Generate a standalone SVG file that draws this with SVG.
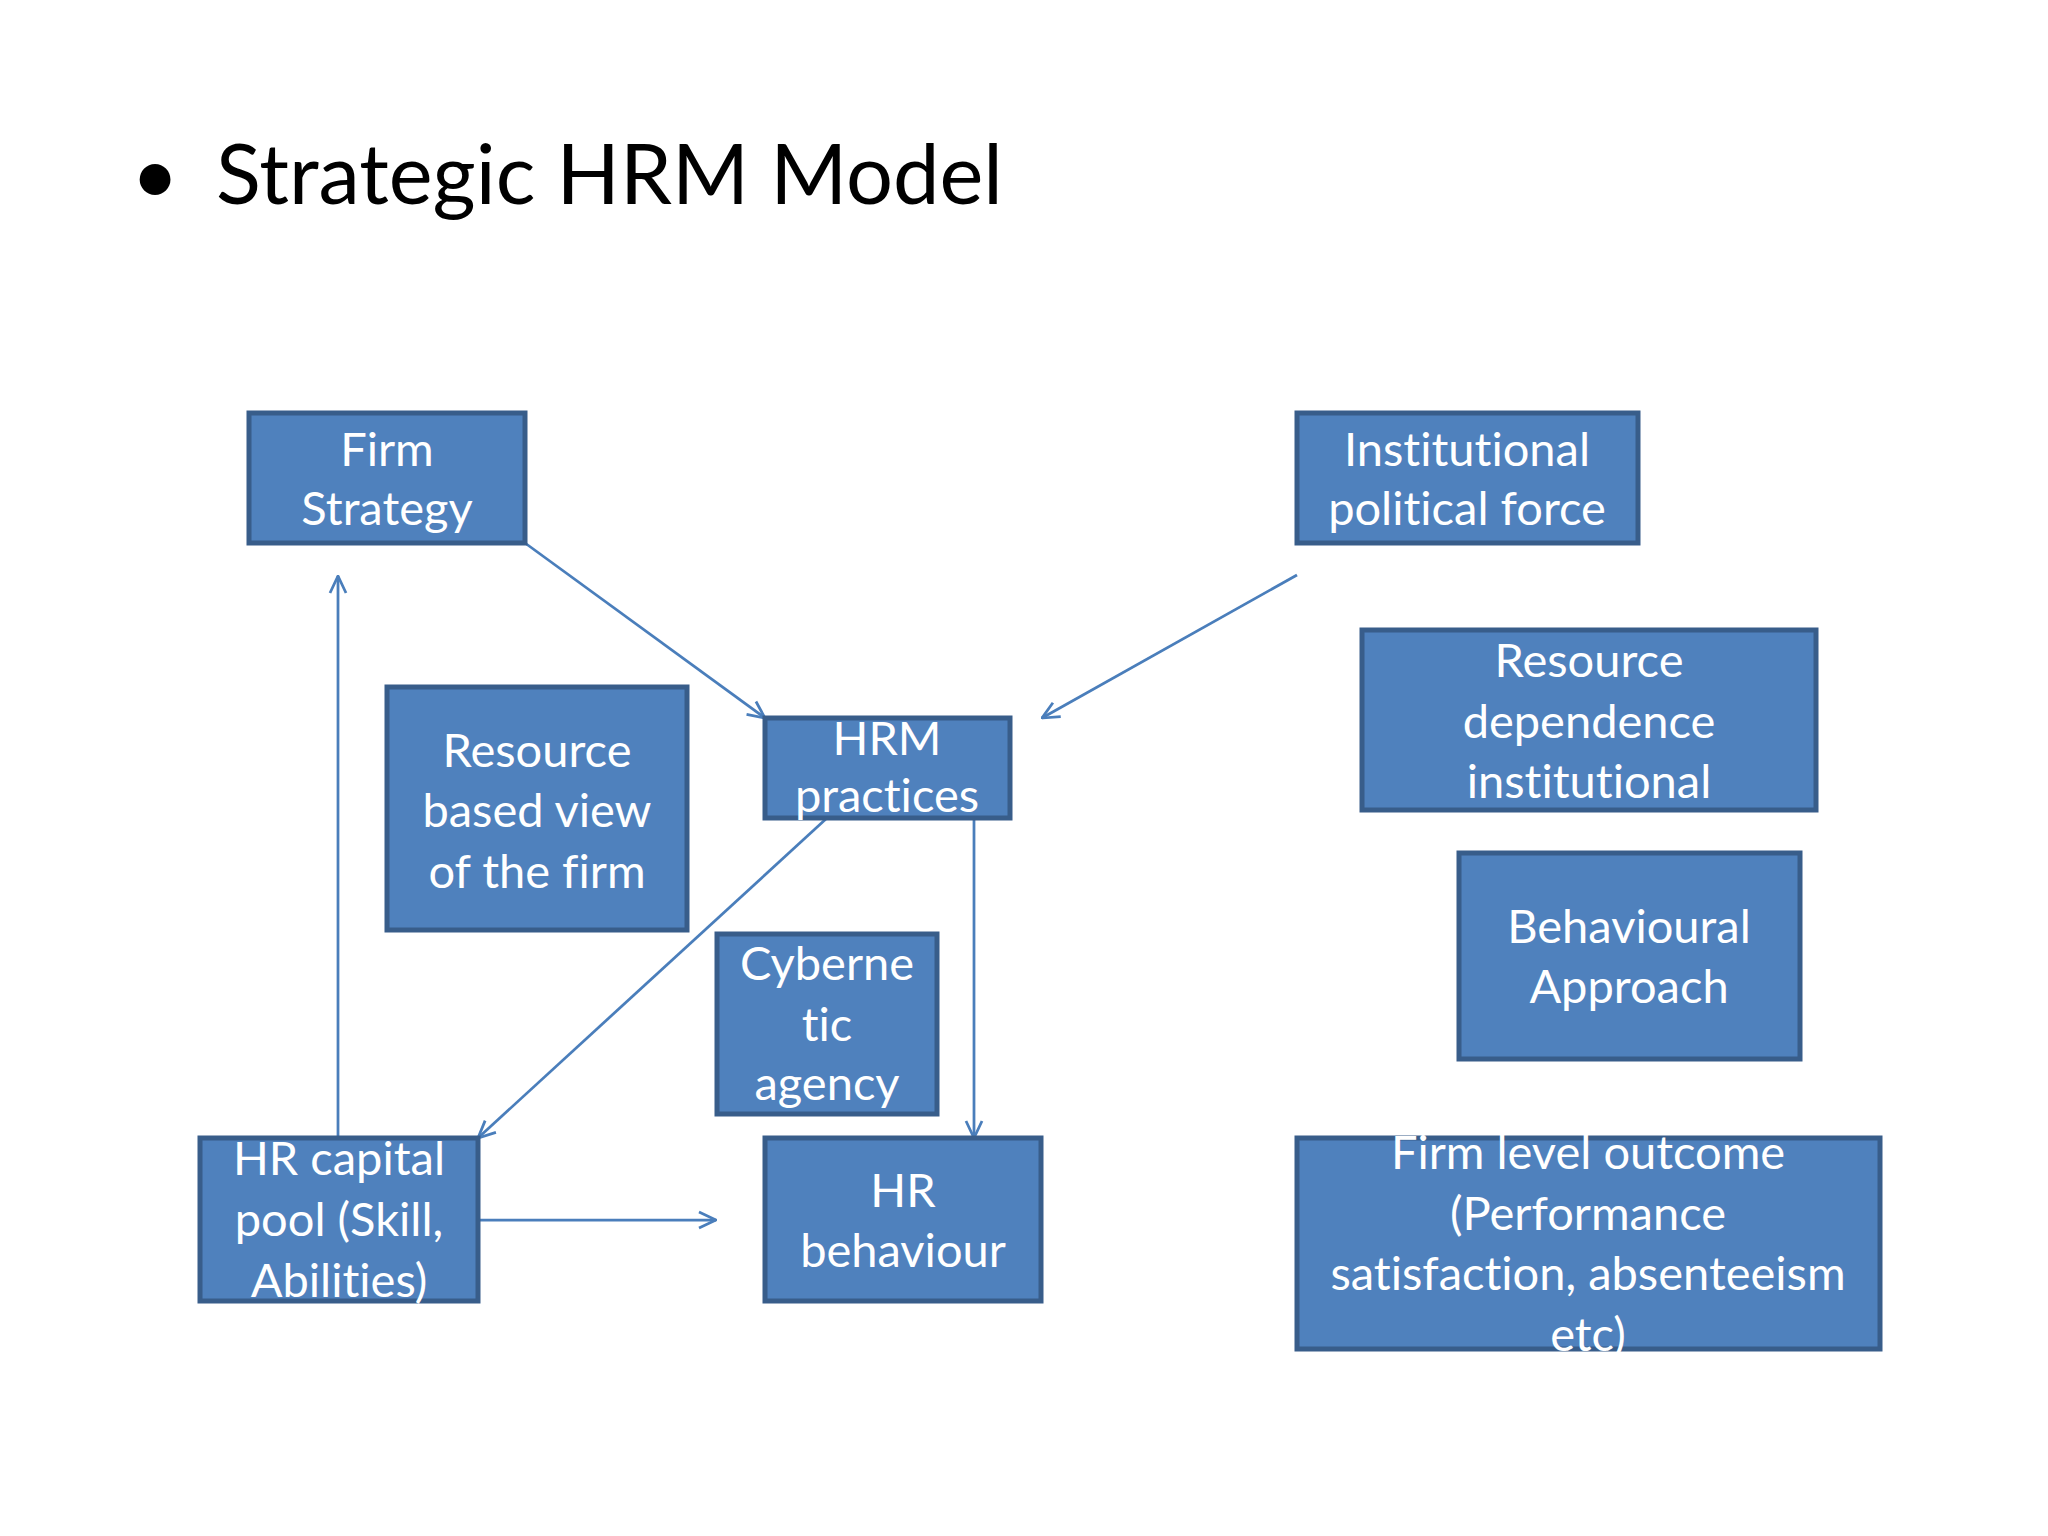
<svg xmlns="http://www.w3.org/2000/svg" width="2048" height="1536" viewBox="0 0 2048 1536">
<style>
.box{fill:#4F81BD;stroke:#385D8A;stroke-width:5}
.t{font-family:Lato,"Open Sans","Liberation Sans",sans-serif;font-size:47px;fill:#FFFFFF;text-anchor:middle;font-variant-ligatures:none;font-feature-settings:"liga" 0}
.title{font-family:Lato,"Open Sans","Liberation Sans",sans-serif;font-size:83px;fill:#000000;font-variant-ligatures:none}
.c{stroke:#4A7EBB;stroke-width:2.75;fill:none;marker-end:url(#arr)}
</style>
<defs>
<marker id="arr" viewBox="0 0 20 20" refX="19" refY="10" markerWidth="20" markerHeight="20" markerUnits="userSpaceOnUse" orient="auto">
<path d="M2,2 L19,10 L2,18" fill="none" stroke="#4A7EBB" stroke-width="2.75"/>
</marker>
</defs>
<rect width="2048" height="1536" fill="#FFFFFF"/>
<g id="title">
<text class="title" x="155" y="204" text-anchor="middle" font-size="76">•</text>
<text class="title" x="216" y="204">Strategic HRM Model</text>
</g>
<g id="connectors">
<line class="c" x1="525" y1="543" x2="765" y2="718"/>
<line class="c" x1="1297" y1="575" x2="1042" y2="718"/>
<line class="c" x1="827" y1="818" x2="478" y2="1138"/>
<line class="c" x1="974" y1="818" x2="974" y2="1138"/>
<line class="c" x1="338" y1="1138" x2="338" y2="576"/>
<line class="c" x1="478" y1="1220" x2="716" y2="1220"/>
</g>
<g id="firm-strategy">
<rect class="box" x="249" y="413" width="276" height="130"/>
<text class="t" x="387" y="466">Firm</text>
<text class="t" x="387" y="525">Strategy</text>
</g>
<g id="institutional">
<rect class="box" x="1297" y="413" width="341" height="130"/>
<text class="t" x="1467" y="466">Institutional</text>
<text class="t" x="1467" y="525">political force</text>
</g>
<g id="resource-dependence">
<rect class="box" x="1362" y="630" width="454" height="180"/>
<text class="t" x="1589" y="677">Resource</text>
<text class="t" x="1589" y="738">dependence</text>
<text class="t" x="1589" y="798">institutional</text>
</g>
<g id="rbv">
<rect class="box" x="387" y="687" width="300" height="243"/>
<text class="t" x="537" y="767">Resource</text>
<text class="t" x="537" y="827">based view</text>
<text class="t" x="537" y="888">of the firm</text>
</g>
<g id="hrm-practices">
<rect class="box" x="765" y="718" width="245" height="100"/>
<text class="t" x="887" y="755">HRM</text>
<text class="t" x="887" y="812">practices</text>
</g>
<g id="behavioural">
<rect class="box" x="1459" y="853" width="341" height="206"/>
<text class="t" x="1629" y="943">Behavioural</text>
<text class="t" x="1629" y="1003">Approach</text>
</g>
<g id="cybernetic">
<rect class="box" x="717" y="934" width="220" height="180"/>
<text class="t" x="827" y="980">Cyberne</text>
<text class="t" x="827" y="1041">tic</text>
<text class="t" x="827" y="1100">agency</text>
</g>
<g id="hr-capital">
<rect class="box" x="200" y="1138" width="278" height="163"/>
<text class="t" x="339" y="1175">HR capital</text>
<text class="t" x="339" y="1236">pool (Skill,</text>
<text class="t" x="339" y="1297">Abilities)</text>
</g>
<g id="hr-behaviour">
<rect class="box" x="765" y="1138" width="276" height="163"/>
<text class="t" x="903" y="1207">HR</text>
<text class="t" x="903" y="1267">behaviour</text>
</g>
<g id="firm-outcome">
<rect class="box" x="1297" y="1138" width="583" height="211"/>
<text class="t" x="1588" y="1169">Firm level outcome</text>
<text class="t" x="1588" y="1230">(Performance</text>
<text class="t" x="1588" y="1290">satisfaction, absenteeism</text>
<text class="t" x="1588" y="1351">etc)</text>
</g>
</svg>
